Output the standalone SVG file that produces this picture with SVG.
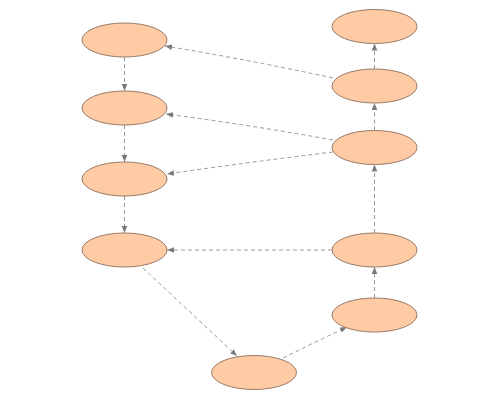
<svg xmlns="http://www.w3.org/2000/svg" width="500" height="400" viewBox="0 0 500 400">
<style>
.n{fill:#fecba4;stroke:#9a7a66;stroke-width:1}
.e{fill:none;stroke:#9a9a9a;stroke-width:1;stroke-dasharray:4,3;marker-end:url(#a)}
</style>
<defs>
<marker id="a" viewBox="0 0 10 10" refX="10" refY="5" markerWidth="7" markerHeight="7" markerUnits="userSpaceOnUse" orient="auto">
<path d="M0,1 L10,5 L0,9 Z" fill="#7a7a7a"/>
</marker>
</defs>
<rect width="500" height="400" fill="#ffffff"/>
<g id="edges">
<path class="e" d="M124.5,57 L124.5,91"/>
<path class="e" d="M124.5,125 L124.5,162"/>
<path class="e" d="M124.5,196 L124.5,233"/>
<path class="e" d="M143,268 Q190,312 237,356"/>
<path class="e" d="M283,358 Q315,342 347,327"/>
<path class="e" d="M374.5,298 L374.5,267"/>
<path class="e" d="M374.5,233 L374.5,164.5"/>
<path class="e" d="M374.5,130.5 L374.5,103"/>
<path class="e" d="M374.5,69 L374.5,43.5"/>
<path class="e" d="M333,78 Q250,60 165,46"/>
<path class="e" d="M333,140 Q250,125 166,114"/>
<path class="e" d="M333,152 Q250,162 167,174"/>
<path class="e" d="M332,250 L167,250"/>
</g>
<g id="L1"><ellipse class="n" cx="124.5" cy="40" rx="42.5" ry="17"/></g>
<g id="L2"><ellipse class="n" cx="124.5" cy="108" rx="42.5" ry="17"/></g>
<g id="L3"><ellipse class="n" cx="124.5" cy="179" rx="42.5" ry="17"/></g>
<g id="L4"><ellipse class="n" cx="124.5" cy="250" rx="42.5" ry="17"/></g>
<g id="R1"><ellipse class="n" cx="374.5" cy="26.5" rx="42.5" ry="17"/></g>
<g id="R2"><ellipse class="n" cx="374.5" cy="86" rx="42.5" ry="17"/></g>
<g id="R3"><ellipse class="n" cx="374.5" cy="147.5" rx="42.5" ry="17"/></g>
<g id="R4"><ellipse class="n" cx="374.5" cy="250" rx="42.5" ry="17"/></g>
<g id="R5"><ellipse class="n" cx="374.5" cy="315" rx="42.5" ry="17"/></g>
<g id="B"><ellipse class="n" cx="254" cy="372.5" rx="42.5" ry="17"/></g>
</svg>
